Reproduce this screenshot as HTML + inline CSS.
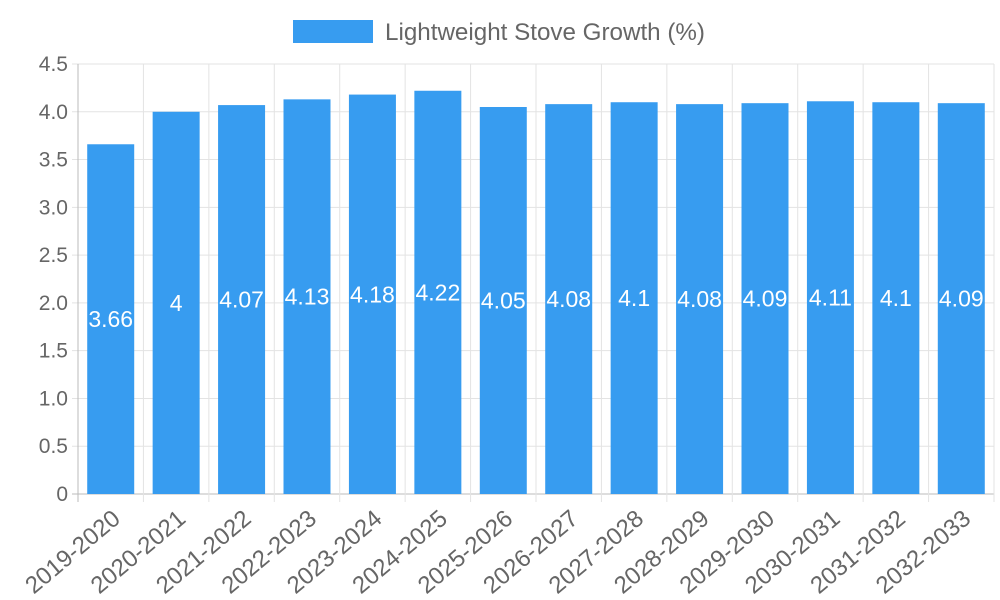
<!DOCTYPE html>
<html><head><meta charset="utf-8"><style>
body{margin:0;background:#fff;}
svg{display:block;font-family:"Liberation Sans",sans-serif;}
</style></head><body>
<svg id="chart" width="1000" height="600">
<g>
<rect x="293" y="20" width="80" height="23" fill="#379CF0"></rect>
<text x="385" y="40" font-size="24.2" fill="#666">Lightweight Stove Growth (%)</text>
</g>
<g id="grid"></g><g id="bars"></g><g id="axes"></g>
</svg>
<script>
const categories=["2019-2020","2020-2021","2021-2022","2022-2023","2023-2024","2024-2025","2025-2026","2026-2027","2027-2028","2028-2029","2029-2030","2030-2031","2031-2032","2032-2033"];
const values=[3.66,4,4.07,4.13,4.18,4.22,4.05,4.08,4.1,4.08,4.09,4.11,4.1,4.09];
const yTicks=[0,0.5,1,1.5,2,2.5,3,3.5,4,4.5];
const yTickLabels=["0","0.5","1.0","1.5","2.0","2.5","3.0","3.5","4.0","4.5"];
const NS="http://www.w3.org/2000/svg";
const L=78,R=994,T=64,B=494,yMax=4.5;
const bw=(R-L)/categories.length;
const y=v=>B-(v/yMax)*(B-T);
const x=i=>L+i*bw;
function mk(tag,attrs,parent,text){const e=document.createElementNS(NS,tag);for(const k in attrs)e.setAttribute(k,attrs[k]);if(text!==undefined)e.textContent=text;document.getElementById(parent).appendChild(e);return e;}
yTicks.forEach((t,i)=>{
 const g=mk("line",{x1:L-6,x2:R,y1:y(t),y2:y(t),stroke:i==0?"#bbb":"#e3e3e3","stroke-width":1},"grid");
 
 
 const tl=mk("text",{x:L-10,y:y(t)+7,"text-anchor":"end","font-size":21,fill:"#666"},"axes",yTickLabels[i]);
 
 
});
for(let i=0;i<=categories.length;i++){
 const g=mk("line",{x1:x(i),x2:x(i),y1:T,y2:B+8,stroke:i==0?"#bbb":"#e3e3e3","stroke-width":1},"grid");
 
 
}
values.forEach((v,i)=>{
 const cx=x(i)+bw/2;
 const r=mk("rect",{x:cx-23.5,y:y(v),width:47,height:B-y(v),fill:"#379CF0"},"bars");
 
 
 const t=mk("text",{x:cx,y:(y(v)+B)/2+8,"text-anchor":"middle","font-size":23,fill:"#fff"},"bars",String(v));
 
 
 const lx=cx+11,ly=B+27;
 const c=mk("text",{x:lx,y:ly,"text-anchor":"end","font-size":24,fill:"#666",transform:`rotate(-40 ${lx} ${ly})`},"axes",categories[i]);
 
 
});
</script>
</body></html>
